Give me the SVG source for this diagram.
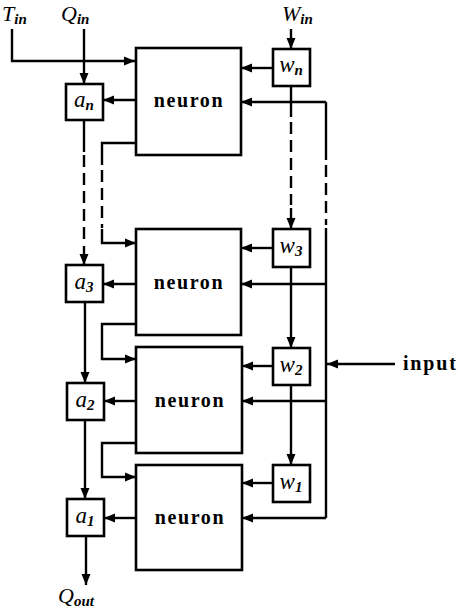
<svg xmlns="http://www.w3.org/2000/svg" width="458" height="610" viewBox="0 0 458 610">
<defs>
<marker id="ah" markerUnits="userSpaceOnUse" markerWidth="12" markerHeight="10" viewBox="0 0 12 10" refX="11" refY="5" orient="auto">
<path d="M0,0.5 L11,5 L0,9.5 Z" fill="#000"/>
</marker>
</defs>
<style>
.box{fill:#fff;stroke:#000;stroke-width:2.6}
.ln{fill:none;stroke:#000;stroke-width:2.4}
.ar{marker-end:url(#ah)}
.ds{stroke-dasharray:12 6}
.nt{font-family:"Liberation Serif",serif;font-weight:bold;font-size:20px;text-anchor:middle;letter-spacing:1.6px}
.mi{font-family:"Liberation Serif",serif;font-style:italic;font-size:22px}
.sb{font-size:15px;font-weight:bold}
.bl{font-family:"Liberation Serif",serif;font-style:italic;font-size:23px;text-anchor:middle}
.tx{font-family:"Liberation Serif",serif;font-weight:bold;font-size:20px;letter-spacing:1.8px}
</style>
<rect width="458" height="610" fill="#fff"/>
<g id="connectors">
<path class="ln ar" d="M12,29 V61 H135"/>
<path class="ln ar" d="M84,29 V84"/>
<path class="ln ar" d="M291,29 V49"/>
<path class="ln ar" d="M273,68 H241"/>
<path class="ln ar" d="M326,102 H241"/>
<path class="ln ar" d="M136,100 H103"/>
<path class="ln" d="M84,120 V152"/>
<path class="ln ds" d="M84,155 V245"/>
<path class="ln ar" d="M84,246 V265"/>
<path class="ln" d="M136,143 H102 V165"/>
<path class="ln ds" d="M102,170 V228"/>
<path class="ln ar" d="M102,229 V243 H136"/>
<path class="ln" d="M291,86 V117"/>
<path class="ln ds" d="M291,122 V205"/>
<path class="ln ar" d="M291,208 V229"/>
<path class="ln" d="M326,102 V160"/>
<path class="ln ds" d="M326,165 V225"/>
<path class="ln" d="M326,228 V518"/>
<path class="ln ar" d="M273,248 H241"/>
<path class="ln ar" d="M326,284 H241"/>
<path class="ln ar" d="M136,284 H103"/>
<path class="ln ar" d="M136,324 H102 V359 H136"/>
<path class="ln ar" d="M85,302 V383"/>
<path class="ln ar" d="M291,267 V348"/>
<path class="ln ar" d="M273,366 H242"/>
<path class="ln ar" d="M326,401 H242"/>
<path class="ln ar" d="M395,364 H327"/>
<path class="ln ar" d="M136,401 H104"/>
<path class="ln ar" d="M136,443 H102 V477 H136"/>
<path class="ln ar" d="M85,420 V499"/>
<path class="ln ar" d="M291,385 V465"/>
<path class="ln ar" d="M273,483 H242"/>
<path class="ln ar" d="M326,518 H242"/>
<path class="ln ar" d="M136,518 H104"/>
<path class="ln ar" d="M86,536 V585"/>
</g>
<g id="neuron_n"><rect class="box" x="136" y="48" width="105" height="107"/><text class="nt" x="189" y="107">neuron</text></g>
<g id="neuron_3"><rect class="box" x="136" y="229" width="105" height="106"/><text class="nt" x="189" y="289">neuron</text></g>
<g id="neuron_2"><rect class="box" x="136" y="347" width="106" height="106"/><text class="nt" x="190" y="407">neuron</text></g>
<g id="neuron_1"><rect class="box" x="136" y="465" width="106" height="105"/><text class="nt" x="190" y="524">neuron</text></g>
<g id="a_n"><rect class="box" x="66" y="84" width="37" height="36"/><text class="bl" x="84" y="107">a<tspan class="sb" dy="3">n</tspan></text></g>
<g id="a_3"><rect class="box" x="66" y="265" width="37" height="37"/><text class="bl" x="84" y="289">a<tspan class="sb" dy="3">3</tspan></text></g>
<g id="a_2"><rect class="box" x="67" y="383" width="37" height="37"/><text class="bl" x="85" y="407">a<tspan class="sb" dy="3">2</tspan></text></g>
<g id="a_1"><rect class="box" x="67" y="499" width="37" height="37"/><text class="bl" x="85" y="523">a<tspan class="sb" dy="3">1</tspan></text></g>
<g id="w_n"><rect class="box" x="273" y="49" width="37" height="37"/><text class="bl" x="291" y="72">w<tspan class="sb" dy="3">n</tspan></text></g>
<g id="w_3"><rect class="box" x="273" y="229" width="37" height="38"/><text class="bl" x="291" y="253">w<tspan class="sb" dy="3">3</tspan></text></g>
<g id="w_2"><rect class="box" x="273" y="348" width="37" height="37"/><text class="bl" x="291" y="372">w<tspan class="sb" dy="3">2</tspan></text></g>
<g id="w_1"><rect class="box" x="273" y="465" width="37" height="37"/><text class="bl" x="291" y="489">w<tspan class="sb" dy="3">1</tspan></text></g>
<g id="labels">
<text class="mi" x="2" y="21">T<tspan class="sb" dy="3">in</tspan></text>
<text class="mi" x="61" y="21">Q<tspan class="sb" dy="3">in</tspan></text>
<text class="mi" x="282" y="21">W<tspan class="sb" dy="3">in</tspan></text>
<text class="mi" x="58" y="603">Q<tspan class="sb" dy="3">out</tspan></text>
<text class="tx" x="403" y="370">input</text>
</g>
</svg>
